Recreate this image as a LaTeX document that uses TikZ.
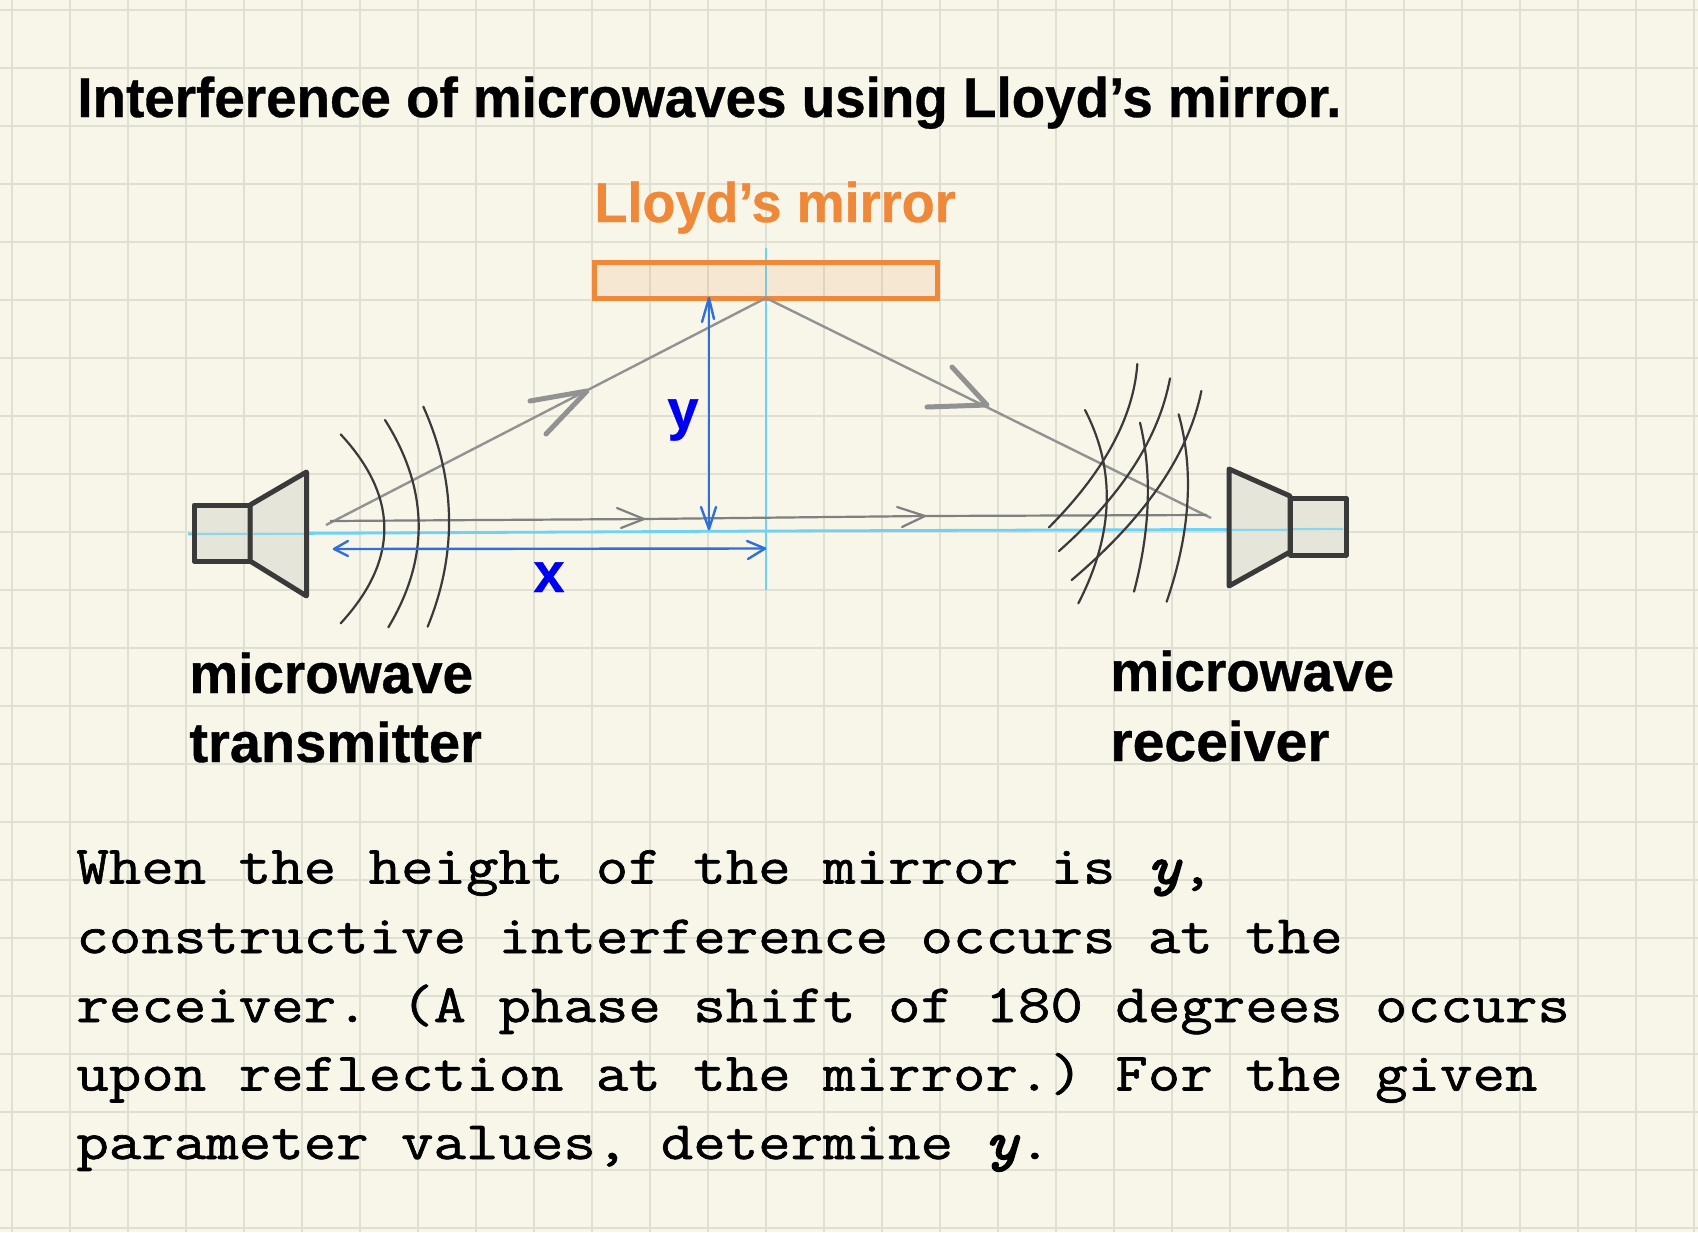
\documentclass[tikz,border=0pt]{standalone}
\usepackage{graphicx}
\usepackage{fontspec}
\setmainfont{Liberation Sans}
\newfontfamily\headfont[FakeBold=0.6]{Liberation Sans Bold}
\newfontfamily\bodyfont[FakeStretch=1.1675,FakeBold=1.2,ItalicFeatures={FakeBold=3}]{Latin Modern Mono}
\definecolor{paper}{HTML}{F7F6E9}
\definecolor{gridc}{HTML}{DFE0D2}
\definecolor{darkc}{HTML}{3A3A3A}
\definecolor{conec}{HTML}{E3E3D8}
\definecolor{cyanc}{HTML}{6CD2F7}
\definecolor{rayc}{HTML}{929292}
\definecolor{directc}{HTML}{808080}
\definecolor{dimc}{HTML}{2F6FD8}
\definecolor{orangec}{HTML}{F0883A}
\definecolor{labelblue}{HTML}{0000F0}
\tikzset{
  gridline/.style={gridc,line width=1pt},
  axisline/.style={cyanc,line width=1.4pt},
  axisinner/.style={cyanc,line width=1.4pt,opacity=.7},
  horn/.style={darkc,line width=2.5pt,line join=round,fill=conec,fill opacity=.85},
  wave/.style={darkc,line width=1.1pt,line cap=round},
  ray/.style={rayc,line width=1.2pt},
  directray/.style={directc,line width=1.1pt},
  raybarb/.style={rayc,line width=2.5pt,line cap=round,line join=round},
  thinbarb/.style={directc,line width=1.1pt,line cap=round,line join=round},
  dimline/.style={dimc,line width=1.2pt,line cap=round,line join=round},
  head/.style={inner sep=0pt,anchor=base west,font=\headfont\fontsize{28}{28}\selectfont},
  bodyline/.style={inner sep=0pt,anchor=base west,font=\bodyfont\fontsize{27}{27}\selectfont\frenchspacing},
}
% a wave front through a, m, b (m is the parameter midpoint)
\newcommand{\wavearc}[6]{%
  \draw[wave] (#1,#2) .. controls ({(4*#3-#5)/3},{(4*#4-#6)/3}) and ({(4*#3-#1)/3},{(4*#4-#2)/3}) .. (#5,#6);}
\begin{document}
\begin{tikzpicture}[x=0.5pt,y=-0.5pt]
\useasboundingbox (0,0) rectangle (1698,1232);
\fill[paper] (0,0) rectangle (1698,1232);
\foreach \k in {0,...,29} \draw[gridline] ({12+58*\k},0) -- ({12+58*\k},1232);
\foreach \k in {0,...,21} \draw[gridline] (0,{10+58*\k}) -- (1698,{10+58*\k});
% axes
\coordinate (axL) at (188,534);
\coordinate (axM) at (766,531);
\coordinate (axR) at (1347,529);
\coordinate (vT) at (766,248);
\coordinate (vB) at (766,590);
\draw[axisline] (axL) -- (axM) -- (axR);
\draw[axisline] (vT) -- (vB);
% horns
\draw[horn] (194,505) rectangle (250,561);
\draw[horn] (250,505) -- (306.5,472) -- (306.5,596) -- (250,561) -- cycle;
\draw[horn] (1346,498) rectangle (1290,555);
\draw[horn] (1290,496) -- (1229,469) -- (1229,586) -- (1290,552) -- cycle;
\draw[axisinner] (197,534) -- (247,534);
\draw[axisinner] (253,534) -- (304,534);
\draw[axisinner] (1232,530) -- (1287,530);
\draw[axisinner] (1293,529) -- (1343,529);
% mirror
\node[draw=orangec,line width=2.5pt,fill=orangec,fill opacity=.13,draw opacity=1,inner sep=0pt,minimum width=343*0.5pt,minimum height=36*0.5pt,anchor=north west] (mirror) at (592,259.5) {};
% rays
\coordinate (src) at (326,525);
\coordinate (hit) at (766,298);
\coordinate (dst) at (1211,518);
\coordinate (dsrc) at (330,521);
\coordinate (ddst) at (1207,515);
\draw[ray] (src) -- (hit) -- (dst);
\draw[directray] (dsrc) -- (644,519) -- (925,516) -- (ddst);
\coordinate (t1) at (587,391);
\draw[raybarb] (530,401) -- (t1) -- (546,434);
\coordinate (t2) at (987,405);
\draw[raybarb] (927,407) -- (t2) -- (952,367);
\coordinate (t3) at (644,519);
\draw[thinbarb] (617,508) -- (t3) -- (621,528);
\coordinate (t4) at (925,516);
\draw[thinbarb] (897,507) -- (t4) -- (902,527);
% waves, transmitter
\begin{scope}[shift={(150,350)},scale=1/3]
\wavearc{572}{253}{703}{536}{572}{820}
\wavearc{705}{210}{806}{521}{715}{832}
\wavearc{820}{170}{897}{500}{833}{830}
\end{scope}
% waves, receiver
\begin{scope}[shift={(1000,340)},scale=1/3]
\wavearc{412}{72}{337}{315}{147}{562}
\wavearc{510}{115}{402}{378}{177}{633}
\wavearc{604}{153}{478}{438}{215}{720}
\wavearc{255}{210}{320}{490}{235}{790}
\wavearc{420}{248}{443}{490}{402}{755}
\wavearc{536}{223}{562}{490}{500}{785}
\end{scope}
% dimensions
\coordinate (xL) at (334,549);
\coordinate (xR) at (765,548.5);
\draw[dimline] (xL) -- (xR);
\draw[dimline] (348,541) -- (xL) -- (348,556);
\draw[dimline] (747,541) -- (xR) -- (748,559);
\coordinate (yT) at (709,298);
\coordinate (yB) at (709,529);
\draw[dimline] (yT) -- (yB);
\draw[dimline] (702,322) -- (yT) -- (714,319);
\draw[dimline] (701,507) -- (yB) -- (716,507);
% labels
\node[head] (title) at (77,117) {\scalebox{.978}[1]{Interference of microwaves using Lloyd’s mirror.}};
\node[head,text=orangec] (mlabel) at (594,222) {\scalebox{.965}[1]{Lloyd’s mirror}};
\node[head] (tx1) at (189,693) {\scalebox{.98}[1]{microwave}};
\node[head] (tx2) at (189,762) {transmitter};
\node[head] (rx1) at (1110,691) {\scalebox{.98}[1]{microwave}};
\node[head] (rx2) at (1110,761) {\scalebox{1.02}[1]{receiver}};
\node[head,text=labelblue] (xlab) at (533,592) {x};
\node[head,text=labelblue] (ylab) at (667,429) {y};
% body
\node[bodyline] (b1) at (76,883.5) {When the height of the mirror is \textit{y},};
\node[bodyline] (b2) at (76,953) {constructive interference occurs at the};
\node[bodyline] (b3) at (76,1022) {receiver. (A phase shift of 180 degrees occurs};
\node[bodyline] (b4) at (76,1090.5) {upon reflection at the mirror.) For the given};
\node[bodyline] (b5) at (76,1159) {parameter values, determine \textit{y}.};
\end{tikzpicture}
\end{document}
